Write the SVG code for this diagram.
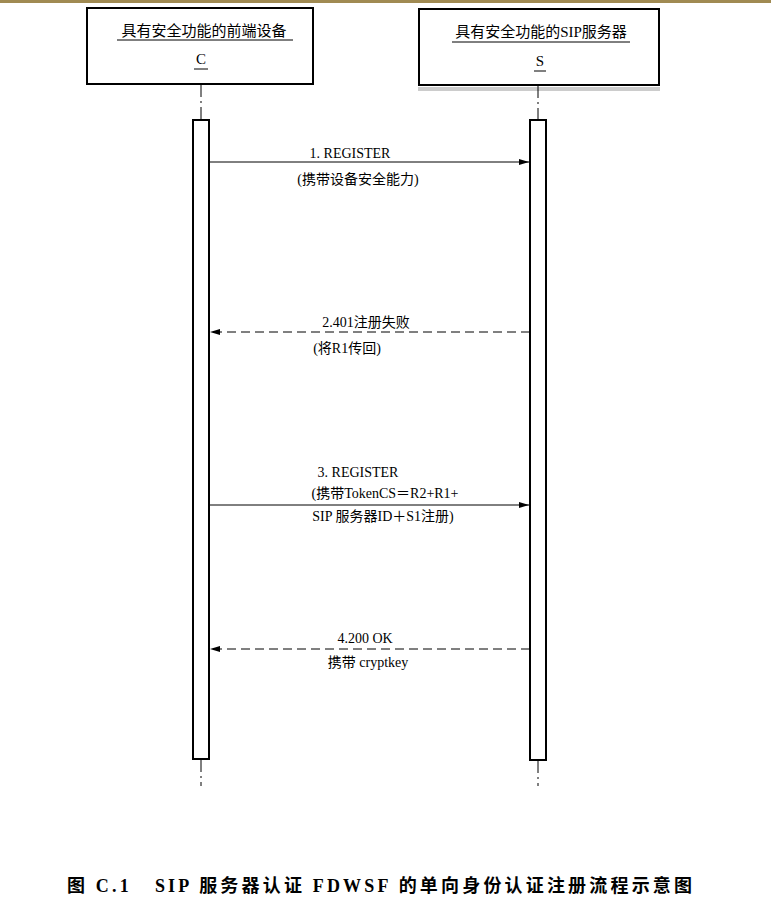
<svg xmlns="http://www.w3.org/2000/svg" width="771" height="909" viewBox="0 0 771 909">
<style>
text{font-family:"Liberation Serif","Noto Sans CJK SC",serif;fill:#000}
.t{font-size:14px;text-anchor:middle}
.h{font-size:15px;text-anchor:middle}
.box{fill:#fff;stroke:#000;stroke-width:2}
.life{stroke:#000;stroke-width:1;stroke-dasharray:12,4,2,4}
.act{fill:#fff;stroke:#000;stroke-width:2}
.msg{stroke:#000;stroke-width:1;fill:none}
.dash{stroke-dasharray:9,5}
</style>
<defs><marker id="ah" markerWidth="10" markerHeight="6" refX="10" refY="3" orient="auto" markerUnits="userSpaceOnUse"><path d="M0,0 L10,3 L0,6 z" fill="#000"/></marker></defs>
<rect width="771" height="909" fill="#fff"/>
<rect x="0" y="0" width="771" height="3" fill="#a08a52"/>
<g id="nodeC">
<rect class="box" x="87" y="8" width="226" height="76"/>
<text class="h" x="204" y="36">具有安全功能的前端设备</text>
<line x1="117" y1="40" x2="293" y2="40" stroke="#000"/>
<text class="h" x="201" y="64">C</text>
<line x1="194" y1="69" x2="208" y2="69" stroke="#000"/>
<line class="life" x1="201" y1="85" x2="201" y2="120"/>
<rect class="act" x="193" y="120" width="16" height="639"/>
<line class="life" x1="201" y1="760" x2="201" y2="786"/>
</g>
<g id="nodeS">
<rect class="box" x="419" y="9" width="240" height="76"/>
<line x1="418" y1="88" x2="660" y2="88" stroke="#999"/>
<line x1="418" y1="90" x2="660" y2="90" stroke="#999"/>
<text class="h" x="541" y="37">具有安全功能的SIP服务器</text>
<line x1="452" y1="42" x2="630" y2="42" stroke="#000"/>
<text class="h" x="540" y="66">S</text>
<line x1="534" y1="71" x2="546" y2="71" stroke="#000"/>
<line class="life" x1="538" y1="86" x2="538" y2="120"/>
<rect class="act" x="530" y="120" width="16" height="640"/>
<line class="life" x1="538" y1="761" x2="538" y2="786"/>
</g>
<g id="connectors">
<line class="msg" x1="209" y1="162" x2="529" y2="162" marker-end="url(#ah)"/>
<line class="msg dash" x1="530" y1="332" x2="210" y2="332" marker-end="url(#ah)"/>
<line class="msg" x1="209" y1="505" x2="529" y2="505" marker-end="url(#ah)"/>
<line class="msg dash" x1="530" y1="649" x2="210" y2="649" marker-end="url(#ah)"/>
</g>
<g id="labels">
<text class="t" x="350" y="158">1. REGISTER</text>
<text class="t" x="358" y="184">(携带设备安全能力)</text>
<text class="t" x="366" y="327">2.401注册失败</text>
<text class="t" x="347" y="353">(将R1传回)</text>
<text class="t" x="358" y="477">3. REGISTER</text>
<text class="t" x="385" y="498">(携带TokenCS＝R2+R1+</text>
<text class="t" x="383" y="521">SIP 服务器ID＋S1注册)</text>
<text class="t" x="365" y="643">4.200 OK</text>
<text class="t" x="368" y="667">携带 cryptkey</text>
</g>
<text x="67" y="892" xml:space="preserve" textLength="625" lengthAdjust="spacing" style="font-size:18px;font-weight:bold">图 C.1   SIP 服务器认证 FDWSF 的单向身份认证注册流程示意图</text>
</svg>
